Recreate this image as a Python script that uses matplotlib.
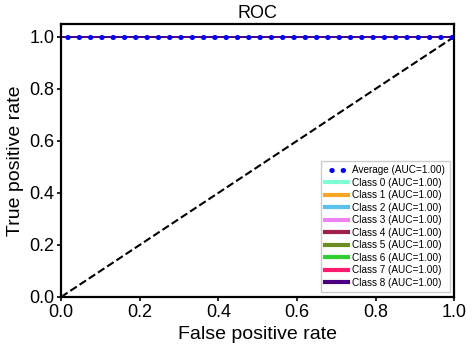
import matplotlib
matplotlib.use("Agg")
import matplotlib.pyplot as plt

plt.rcParams['font.family'] = ['Liberation Sans', 'DejaVu Sans']

class_names = ["Class 0", "Class 1", "Class 2", "Class 3", "Class 4",
               "Class 5", "Class 6", "Class 7", "Class 8"]
class_auc = [1.00] * 9
class_colors = ["#7fffd4", "#f5a623", "#5bc0f0", "#ee82ee", "#a0204a",
                "#6b8e23", "#32cd32", "#ff1a6e", "#4b0082"]
fpr = [0.0, 0.0, 1.0]
tpr = [0.0, 1.0, 1.0]
avg_fpr = [0.0, 1.0]
avg_tpr = [1.0, 1.0]
avg_auc = 1.00
x_ticks = [0.0, 0.2, 0.4, 0.6, 0.8, 1.0]
y_ticks = [0.0, 0.2, 0.4, 0.6, 0.8, 1.0]

fig = plt.figure(figsize=(4.74, 3.51), dpi=100)
ax = fig.add_axes([0.129, 0.154, 0.829, 0.778])

ax.plot(avg_fpr, avg_tpr, color="#0000ff", linestyle=(1.0, (0.1, 2.16)), linewidth=3.6,
        dash_capstyle="round", label="Average (AUC={:.2f})".format(avg_auc), zorder=2.3)
for name, auc, c in zip(class_names, class_auc, class_colors):
    ax.plot(fpr, tpr, color=c, linewidth=1.4, label="{} (AUC={:.2f})".format(name, auc), zorder=2)

ax.plot([0, 1], [0, 1], "k--", linewidth=1.5, zorder=2.1)

ax.set_xlim(0, 1.0)
ax.set_ylim(0, 1.05)
ax.set_xticks(x_ticks)
ax.set_yticks(y_ticks)
ax.set_xticklabels(["{:.1f}".format(t) for t in x_ticks], fontsize=13)
ax.set_yticklabels(["{:.1f}".format(t) for t in y_ticks], fontsize=13)
ax.tick_params(length=3, width=1.2, pad=2)
for s in ax.spines.values():
    s.set_linewidth(1.6)
ax.set_xlabel("False positive rate", fontsize=14, labelpad=4)
ax.set_ylabel("True positive rate", fontsize=14, labelpad=4)
ax.set_title("ROC", fontsize=13, pad=4)

leg = ax.legend(loc="lower right", fontsize=7.2, handlelength=2.3, labelspacing=0.25,
                borderpad=0.45, handletextpad=0.4, borderaxespad=0.45,
                fancybox=False, framealpha=1)
for line in leg.get_lines()[1:]:
    line.set_linewidth(3)

fig.savefig("out.png", dpi=100)
